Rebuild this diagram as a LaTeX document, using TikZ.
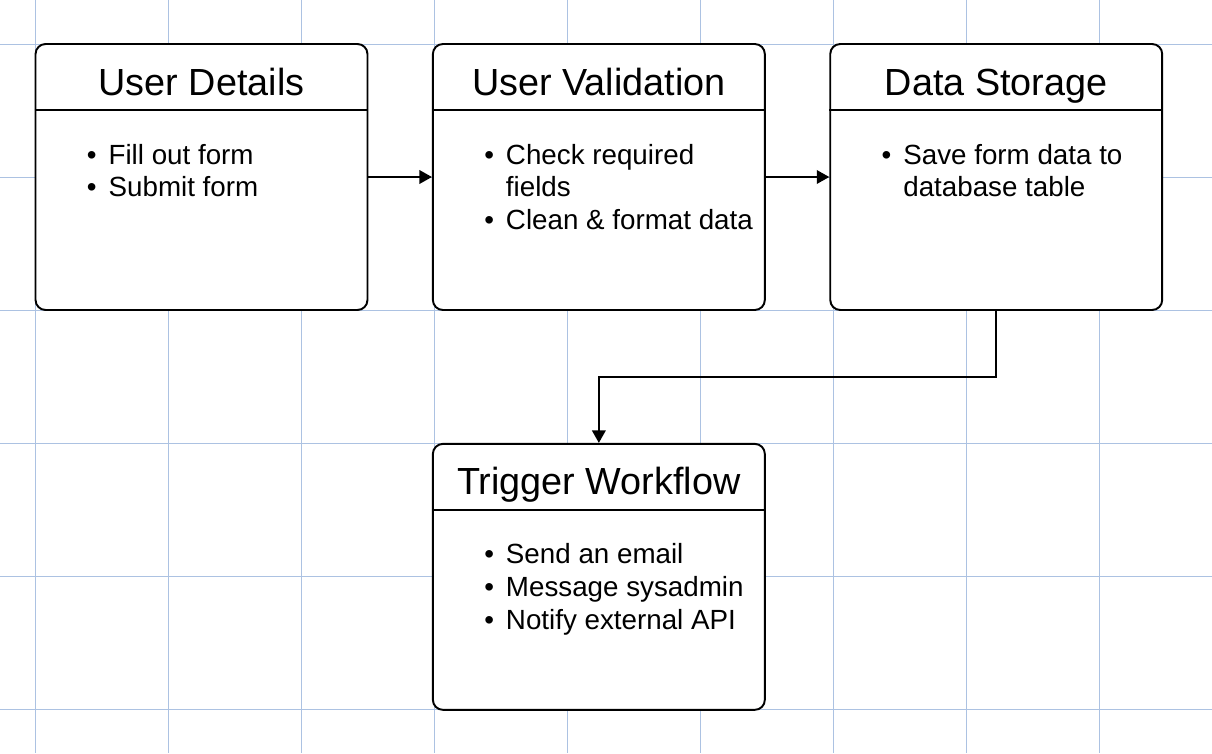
\documentclass[tikz,border=0pt]{standalone}
\usepackage{fontspec}
\setmainfont{Liberation Sans}
\usetikzlibrary{arrows.meta,positioning}

\definecolor{gridblue}{RGB}{172,194,226}
\newcommand{\itemlist}[1]{\begin{tabular}[t]{@{}l@{\hspace{0.24cm}}l@{}}#1\end{tabular}}

\begin{document}
\begin{tikzpicture}[x=0.02cm,y=-0.02cm,>={Triangle[length=0.25cm,width=0.27cm]},
  node distance=2.64cm and 1.27cm,
  gridline/.style={draw=gridblue,line width=0.5pt},
  stage/.style={draw,fill=white,line width=1.1pt,rounded corners=0.2cm,
    minimum width=6.64cm,minimum height=5.32cm,inner sep=0pt},
  stagetitle/.style={anchor=base,inner sep=0pt,font=\fontsize{21.5pt}{26pt}\selectfont},
  stagebody/.style={anchor=base west,inner sep=0pt,font=\fontsize{15.8pt}{18.7pt}\selectfont},
  flow/.style={->,line width=1.1pt}]

            \useasboundingbox (0,0) rectangle (1212,753);

            % background grid
            \foreach \k in {0,...,8} \draw[gridline] ({35+133*\k},0) -- ({35+133*\k},753);
            \foreach \k in {0,...,5} \draw[gridline] (0,{44+133*\k}) -- (1212,{44+133*\k});

            \node[stage] (details) at (201.5,177) {};

            \node[stage] (valid) [right=of details] {};

            \node[stage] (store) [right=of valid] {};

            \node[stage] (trigger) [below=of valid] {};

            \foreach \s in {details,valid,store,trigger}
                \draw[line width=1.1pt] ([yshift=-1.34cm]\s.north west) -- ([yshift=-1.34cm]\s.north east);

            \node[stagetitle] (detailsT) at ([yshift=-1.04cm]details.north) {User Details};

            \node[stagetitle] (validT) at ([yshift=-1.04cm]valid.north) {User Validation};

            \node[stagetitle] (storeT) at ([yshift=-1.04cm]store.north) {Data Storage};

            \node[stagetitle] (triggerT) at ([yshift=-1.04cm]trigger.north) {Trigger Workflow};

            \node[stagebody] (detailsB) at ([xshift=1.04cm,yshift=-2.42cm]details.north west)
                {\itemlist{\textbullet & Fill out form\\ \textbullet & Submit form}};

            \node[stagebody] (validB) at ([xshift=1.04cm,yshift=-2.42cm]valid.north west)
                {\itemlist{\textbullet & Check required\\ & fields\\ \textbullet & Clean \& format data}};

            \node[stagebody] (storeB) at ([xshift=1.04cm,yshift=-2.42cm]store.north west)
                {\itemlist{\textbullet & Save form data to\\ & database table}};

            \node[stagebody] (triggerB) at ([xshift=1.04cm,yshift=-2.42cm]trigger.north west)
                {\itemlist{\textbullet & Send an email\\ \textbullet & Message sysadmin\\ \textbullet & Notify external API}};

            \draw[flow] (details) -- (valid);
            \draw[flow] (valid) -- (store);
            \draw[flow] (store.south) -- ++(0,-1.32cm) -| (trigger.north);

\end{tikzpicture}
\end{document}
